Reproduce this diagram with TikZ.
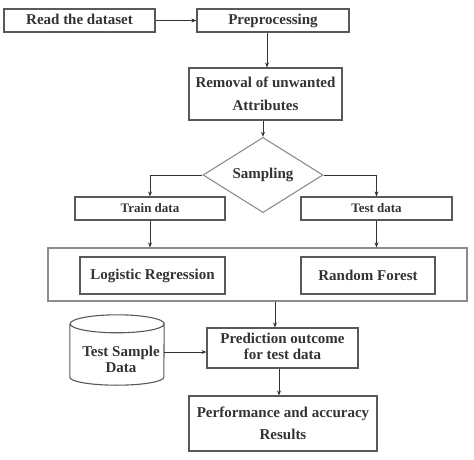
\documentclass[tikz,border=0pt]{standalone}
\usepackage{fontspec}
\setmainfont{Liberation Serif}
\usetikzlibrary{shapes.geometric,arrows.meta,calc}
\begin{document}
\begin{tikzpicture}[x=1pt,y=-1pt,
  every node/.style={font=\bfseries\fontsize{15}{23}\selectfont, text=black!80},
  box/.style={draw=black!65, line width=1.1pt, rectangle, inner sep=0pt, align=center},
  small/.style={font=\bfseries\fontsize{13}{16}\selectfont},
  arr/.style={draw=black!80, line width=1pt, -{Stealth[length=5pt,width=4pt]}},
  ln/.style={draw=black!80, line width=1pt}]
\useasboundingbox (0,0) rectangle (474,460);
\node[box, minimum width=151pt, minimum height=23pt] (read) at (79.5,20.5) {\raisebox{1.5pt}{Read the dataset}};
\node[box, minimum width=152pt, minimum height=23pt] (pre) at (273,20.5) {\raisebox{1.5pt}{Preprocessing}};
\node[box, minimum width=153pt, minimum height=52pt] (rem) at (265.5,94) {Removal of unwanted\\Attributes};
\node[diamond, draw=black!45, line width=1.1pt, inner sep=0pt, minimum width=120pt, minimum height=72pt] (samp) at (263,175) {\raisebox{4pt}{Sampling}};
\node[box, small, minimum width=150pt, minimum height=23pt] (train) at (150,208.5) {\raisebox{-3pt}{Train data}};
\node[box, small, minimum width=151pt, minimum height=23pt] (test) at (376.5,208.5) {\raisebox{-3pt}{Test data}};
\node[box, draw=black!45, minimum width=419pt, minimum height=53pt] (big) at (257.5,274.5) {};
\node[box, minimum width=145pt, minimum height=37pt] (lr) at (152.5,275.5) {Logistic Regression};
\node[box, minimum width=134pt, minimum height=37pt] (rf) at (368,275.5) {Random Forest};
\node[box, minimum width=151pt, minimum height=40pt, font=\bfseries\fontsize{15}{16}\selectfont] (pred) at (282.5,348) {\raisebox{4pt}{\begin{tabular}{@{}c@{}}Prediction outcome\\[0pt]for test data\end{tabular}}};
\node[box, minimum width=188pt, minimum height=55pt, font=\bfseries\fontsize{15}{22}\selectfont] (perf) at (283,423.5) {Performance and accuracy\\Results};
% cylinder
\node[inner sep=0pt, minimum width=94pt, minimum height=70pt] (cyl) at (117,350) {};
\draw[draw=black!65, line width=1.1pt] ($(cyl.north west)+(0,9)$) -- ($(cyl.south west)+(0,-8)$)
  arc[start angle=180, end angle=360, x radius=47, y radius=-8] -- ($(cyl.north east)+(0,9)$)
  arc[start angle=0, end angle=180, x radius=47, y radius=-9]
  arc[start angle=180, end angle=360, x radius=47, y radius=-9];
\node[align=center, font=\bfseries\fontsize{15}{16}\selectfont] (cyltxt) at (121,359) {Test Sample\\Data};
% connectors
\draw[arr] (read.east) -- (pre.west);
\draw[arr] ([xshift=-6pt]pre.south) -- ([xshift=-6pt]pre.south |- rem.north);
\draw[arr] (samp.north |- rem.south) -- (samp.north);
\draw[arr] (samp.west) -| (train.north);
\draw[arr] (samp.east) -| (test.north);
\draw[arr] (train.south) -- (train.south |- big.north);
\draw[arr] (test.south) -- (test.south |- big.north);
\draw[arr] ([xshift=17.5pt]big.south) -- ([xshift=17.5pt]big.south |- pred.north);
\draw[arr] ([yshift=-2pt]cyl.east) -- ([yshift=-2pt]cyl.east -| pred.west);
\draw[arr] ([xshift=-3.5pt]pred.south) -- ([xshift=-3.5pt]pred.south |- perf.north);
\end{tikzpicture}
\end{document}
